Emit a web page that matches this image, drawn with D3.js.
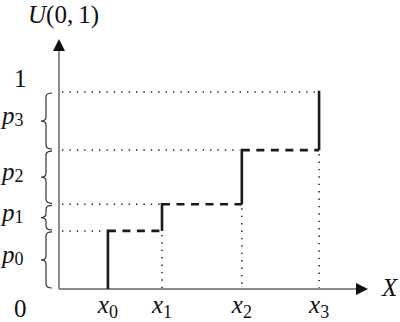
<!DOCTYPE html>
<html>
<head>
<meta charset="utf-8">
<script src="https://cdn.jsdelivr.net/npm/d3@7"></script>
<style>
  body { margin: 0; background: #fff; }
  svg { display: block; }
</style>
</head>
<body>
<div id="chart"></div>
<script>
// step values of the discrete variable and their probabilities
const xNames = ["0", "1", "2", "3"];
const xValues = [0.95, 2.0, 3.55, 5.05];
const probs = [0.295, 0.135, 0.275, 0.295];
const yTicks = [0, 1];

const width = 400, height = 322;
const origin = { x: 59, y: 289 };
const serif = "Liberation Serif";

const x = d3.scaleLinear().domain([0, 6]).range([origin.x, 368]);
const y = d3.scaleLinear().domain([0, 1]).range([origin.y, 92]);

// cumulative levels
const cum = d3.cumsum(probs);
const levels = Array.from(cum, (c, i) => ({ i, lo: i ? cum[i - 1] : 0, hi: c, x: xValues[i] }));

const svg = d3.select("#chart").append("svg")
    .attr("width", width)
    .attr("height", height);

// dotted guide lines
const guides = svg.append("g")
    .attr("stroke", "#222")
    .attr("stroke-width", 1.5)
    .attr("stroke-dasharray", "1.4 6")
    .attr("fill", "none");

levels.forEach(d => {
    guides.append("line")
        .attr("x1", x(0) + 3).attr("x2", x(d.x) - 2)
        .attr("y1", y(d.hi)).attr("y2", y(d.hi));
    if (d.i > 0) {
        guides.append("line")
            .attr("x1", x(d.x)).attr("x2", x(d.x))
            .attr("y1", y(d.lo) + 4).attr("y2", y(0) - 1);
    }
});

// axes
const axes = svg.append("g");
axes.append("line")
    .attr("x1", origin.x).attr("x2", origin.x)
    .attr("y1", origin.y).attr("y2", 50)
    .attr("stroke", "#666").attr("stroke-width", 1.5);
axes.append("line")
    .attr("x1", origin.x).attr("x2", 358)
    .attr("y1", origin.y).attr("y2", origin.y)
    .attr("stroke", "#666").attr("stroke-width", 1.5);
axes.append("path")
    .attr("d", `M${origin.x},39 L${origin.x - 6},51 L${origin.x + 6},51 Z`)
    .attr("fill", "#111");
axes.append("path")
    .attr("d", `M368,${origin.y} L356,${origin.y - 6} L356,${origin.y + 6} Z`)
    .attr("fill", "#111");

// step function: solid risers, dashed treads
const steps = svg.append("g").attr("stroke", "#1a1a1a").attr("stroke-width", 2.6).attr("fill", "none");
levels.forEach(d => {
    steps.append("line")
        .attr("x1", x(d.x)).attr("x2", x(d.x))
        .attr("y1", y(d.lo)).attr("y2", y(d.hi) - 1.3);
    if (d.i < levels.length - 1) {
        steps.append("line")
            .attr("x1", x(d.x)).attr("x2", x(xValues[d.i + 1]))
            .attr("y1", y(d.hi)).attr("y2", y(d.hi))
            .attr("stroke-dasharray", "8 6.5");
    }
});

// braces for each probability
const braces = svg.append("g").attr("stroke", "#333").attr("stroke-width", 1.2).attr("fill", "none");
levels.forEach(d => {
    const yt = y(d.hi) + 1, yb = y(d.lo) - 1, ym = (yt + yb) / 2;
    braces.append("path").attr("d",
        `M52,${yt} Q46,${yt} 46,${yt + 4} L46,${ym - 4} Q46,${ym} 41,${ym} ` +
        `Q46,${ym} 46,${ym + 4} L46,${yb - 4} Q46,${yb} 52,${yb}`);
});

// p labels
levels.forEach(d => {
    const ym = (y(d.hi) + y(d.lo)) / 2;
    const t = svg.append("text").attr("x", 2).attr("y", ym + 3)
        .attr("font-family", serif).attr("font-size", 25).attr("fill", "#111");
    t.append("tspan").attr("font-style", "italic").text("p");
    t.append("tspan").attr("font-size", 18).attr("dy", 2).text(d.i);
});

// y tick labels
yTicks.forEach(v => {
    svg.append("text")
        .attr("x", 14).attr("y", v === 1 ? y(v) - 5 : y(v) + 28)
        .attr("font-family", serif).attr("font-size", 25).attr("fill", "#111")
        .text(v);
});

// x labels
xValues.forEach((v, i) => {
    const t = svg.append("text")
        .attr("x", x(v)).attr("y", 313)
        .attr("text-anchor", "middle")
        .attr("font-family", serif).attr("font-size", 25).attr("fill", "#111");
    t.append("tspan").attr("font-style", "italic").text("x");
    t.append("tspan").attr("font-size", 18).attr("dy", 5).text(xNames[i]);
});

// axis titles
const ut = svg.append("text").attr("x", 28).attr("y", 23)
    .attr("font-family", serif).attr("font-size", 25).attr("fill", "#111");
ut.append("tspan").attr("font-style", "italic").text("U");
ut.append("tspan").text("(0,\u20091)");

svg.append("text")
    .attr("x", 382).attr("y", 296)
    .attr("font-family", serif).attr("font-size", 25).attr("font-style", "italic").attr("fill", "#111")
    .text("X");
</script>
</body>
</html>
